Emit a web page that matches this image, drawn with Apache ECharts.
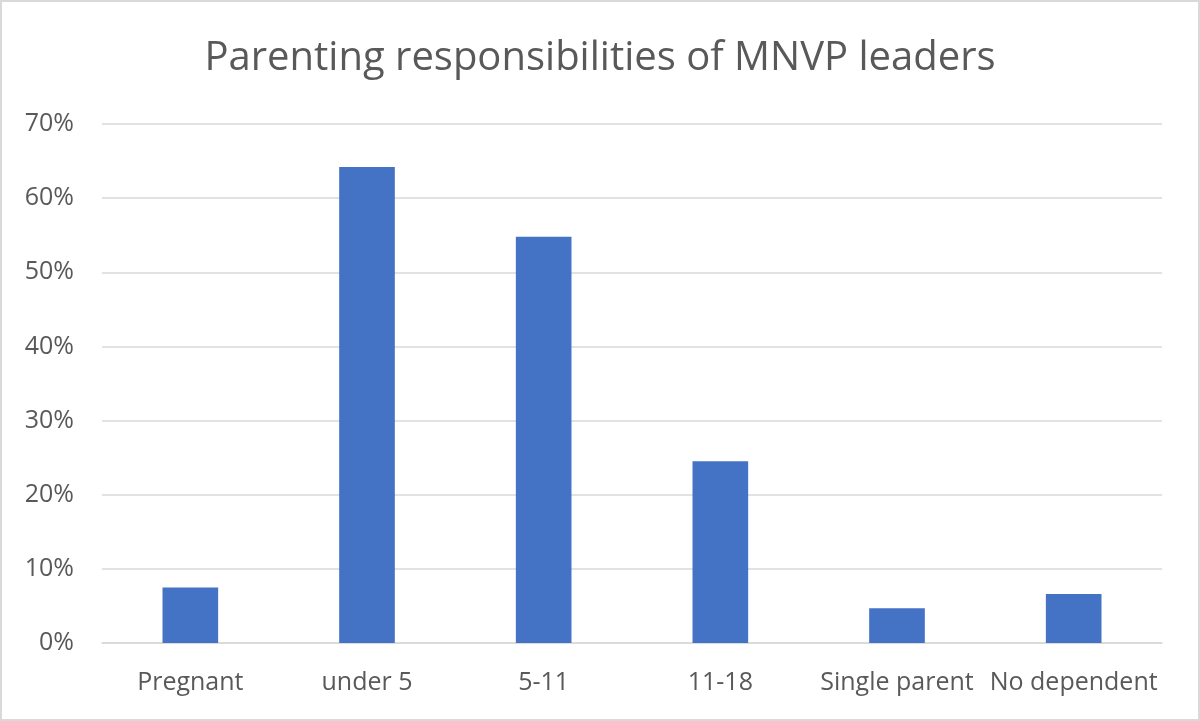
<!DOCTYPE html>
<html>
<head>
<meta charset="utf-8">
<script src="https://cdn.jsdelivr.net/npm/echarts@6/dist/echarts.min.js"></script>
<style>
  html, body { margin: 0; padding: 0; background: #fff; }
  #chart { width: 1200px; height: 721px; box-sizing: border-box; border: 2px solid #d9d9d9; }
</style>
</head>
<body>
<div id="chart"></div>
<script>
// categories and values (percent)
const categories = ['Pregnant', 'under 5', '5-11', '11-18', 'Single parent', 'No dependent']
const values = [7.5, 64.2, 54.8, 24.5, 4.7, 6.6]
const yTicks = [0, 10, 20, 30, 40, 50, 60, 70]

const el = echarts.init(document.getElementById('chart'))

const option = {
  animation: false,
  title: {
    text: 'Parenting responsibilities of MNVP leaders',
    left: 'center',
    top: 32,
    textStyle: {
      fontFamily: 'Open Sans',
      fontSize: 40,
      fontWeight: 'normal',
      color: '#595959'
    }
  },
  grid: {
    left: 100,
    right: 36,
    top: 122,
    bottom: 76
  },
  xAxis: {
    type: 'category',
    data: categories,
    axisLine: { lineStyle: { color: '#d9d9d9', width: 1.5 } },
    axisTick: { show: false },
    axisLabel: {
      fontFamily: 'Open Sans',
      fontSize: 25,
      color: '#595959',
      margin: 27,
      interval: 0
    }
  },
  yAxis: {
    type: 'value',
    min: yTicks[0],
    max: yTicks[yTicks.length - 1],
    interval: 10,
    axisLine: { show: false },
    axisTick: { show: false },
    splitLine: { lineStyle: { color: '#d9d9d9', width: 1.5 } },
    axisLabel: {
      fontFamily: 'Open Sans',
      fontSize: 25,
      color: '#595959',
      margin: 28,
      formatter: v => v + '%'
    }
  },
  series: [
    {
      type: 'bar',
      data: values,
      barWidth: '31.5%',
      itemStyle: { color: '#4472c4' }
    }
  ]
}

el.setOption(option)
</script>
</body>
</html>
